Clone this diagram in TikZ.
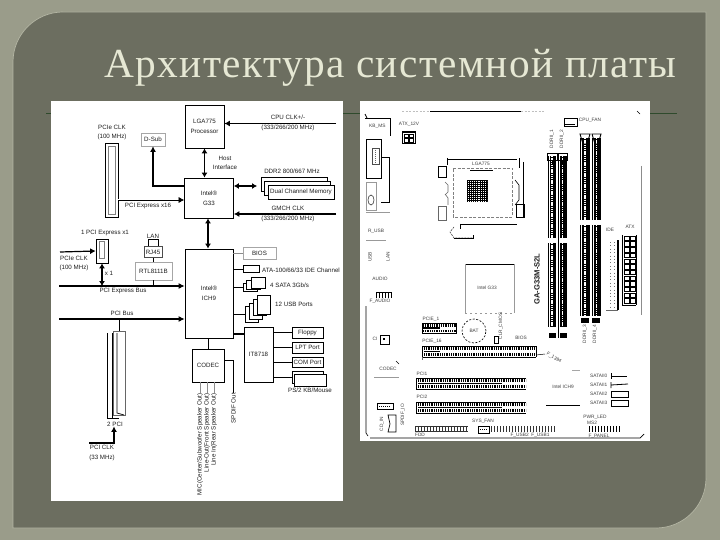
\documentclass[tikz,border=0pt]{standalone}
\usepackage{fontspec}
\setmainfont{Liberation Sans}
\newfontfamily\titlefont[LetterSpace=3.4]{Liberation Serif}
\usetikzlibrary{arrows.meta}
\definecolor{outerbg}{HTML}{9A9C8A}
\definecolor{panelbg}{HTML}{6C6E60}
\definecolor{panelrim}{HTML}{B4B6A4}
\definecolor{rulegreen}{HTML}{2F4A2C}
\definecolor{titlecol}{HTML}{E6E8D4}
\definecolor{ink}{HTML}{1E1E1E}
\tikzset{
  x=1pt,y=-1pt,
  lbl/.style={font=\fontsize{6.2}{9.6}\selectfont,text=ink,inner sep=0,align=center},
  tiny/.style={font=\fontsize{4.8}{6}\selectfont,text=ink!85,inner sep=0,align=center},
  box/.style={draw=black,line width=.7,fill=white,inner sep=0,align=center,font=\fontsize{6.2}{9.6}\selectfont,text=ink},
  wire/.style={draw=black,line width=.7},
  grayw/.style={draw=black!45,line width=.7},
  arr/.style={draw=black,line width=1.2,-{Latex[length=5.5,width=6]}},
  darr/.style={draw=black,line width=1.2,{Latex[length=5,width=6]}-{Latex[length=5,width=6]}},
  bus/.style={draw=black,line width=1.3,-{Latex[length=6,width=6]}},
  brd/.style={draw=black,line width=.7},
  gbrd/.style={draw=black!40,line width=.6},
  pins/.style={draw=black,line width=2.2,dash pattern=on 1 off .8},
  vpin/.style={draw=black,line width=1,dash pattern=on 1 off 1},
}
% a memory slot drawn upright: x0 x1 y0 y1
\newcommand{\memslot}[4]{%
  \fill[black] (#1,#3) rectangle (#2,#4);
  \draw[white,line width=1.6,dash pattern=on 1.4 off .8] ({(#1+#2)/2},#3) -- ({(#1+#2)/2},#4);
  \draw[white,line width=.5] ({#1+1.2},#3) -- ({#1+1.2},#4);
}
% an expansion slot drawn on its side: x0 x1 y0 y1
\newcommand{\sideslot}[4]{%
  \draw[brd] (#2,#3) -- (#1,#3) -- (#1,#4) -- (#2,#4);
  \draw[pins] ({#1+2},{#3+2.5}) -- (#2,{#3+2.5});
  \draw[pins] ({#1+2},{#4-2.5}) -- (#2,{#4-2.5});
}
\begin{document}
\begin{tikzpicture}
\useasboundingbox (0,0) rectangle (720,540);
% ---------- slide ----------
\fill[outerbg] (0,0) rectangle (720,540);
\fill[panelbg] (13,528) -- (13,62) arc[start angle=180,end angle=90,radius=50pt] -- (706,12)
   -- (706,478) arc[start angle=0,end angle=-90,radius=50pt] -- cycle;
\draw[panelrim,line width=.7] (13,528) -- (13,62) arc[start angle=180,end angle=90,radius=50pt] -- (706,12)
   -- (706,478) arc[start angle=0,end angle=-90,radius=50pt] -- cycle;
\coordinate (ruleA) at (46,113.5);
\coordinate (ruleB) at (677,113.5);
\draw[rulegreen,line width=.9] (ruleA) -- (ruleB);
\node[anchor=base west,inner sep=0,text=titlecol,font=\titlefont\fontsize{41.3}{41}\selectfont] (title) at (104,78) {Архитектура системной платы};
\fill[white] (51,101) rectangle (343,501);
\fill[white] (360,101) rectangle (650,441);

% ---------- block diagram ----------
\node[box,minimum width=39,minimum height=43] (cpu) at (204.5,126.5) {LGA775\\Processor};
\node[box,minimum width=49,minimum height=40] (gmch) at (209,198) {Intel®\\G33};
\node[box,minimum width=48,minimum height=89] (ich) at (209,293.5) {Intel®\\ICH9};
\node[box,draw=black!35,minimum width=24,minimum height=13] (dsub) at (153,139.5) {D-Sub};
\node[box,draw=black,fill=white,minimum width=13,minimum height=74] (pcie) at (111.5,180) {};
\node[draw=black!50,line width=.6,inner sep=0,minimum width=7,minimum height=68] (pcieinner) at (111.5,180) {};

\node[lbl] (cpuclklbl) at (288,123) {CPU CLK+/-\\(333/266/200 MHz)};
\coordinate (cpuclk) at (336,123.5);
\draw[arr] (cpuclk) -- (cpuclk -| cpu.east);
\draw[darr] (cpu.south) -- (gmch.north -| cpu.south);
\node[lbl] (hostlbl) at (225,163) {Host\\Interface};
\node[lbl] (pcieclklbl) at (112,132.5) {PCIe CLK\\(100 MHz)};
\draw[arr] (gmch.west |- 0,186) -- (153,186) -- (dsub.south);
\node[lbl] (x16lbl) at (148,206) {PCI Express x16};
\draw[arr,line width=.6,double distance=1] (pcie.east |- 0,200) -- (gmch.west |- 0,200);

\node[lbl] (ddrlbl) at (292,171) {DDR2 800/667 MHz};
\node[box,minimum width=66,minimum height=14] (mem1) at (294,184) {};
\node[box,minimum width=66,minimum height=14] (mem2) at (297.5,188) {};
\node[box,minimum width=66,minimum height=14] (mem3) at (301,192) {Dual Channel Memory};
\coordinate (memin) at (257,186);
\draw[darr] (gmch.east |- memin) -- (memin);
\node[lbl] (gmchclklbl) at (288,214) {GMCH CLK\\(333/266/200 MHz)};
\coordinate (gmchclk) at (336,214);
\draw[arr] (gmchclk) -- (gmchclk -| gmch.east);
\draw[darr] (gmch.south -| 208,0) -- (ich.north -| 208,0);

\node[lbl] (x1lbl) at (105,233) {1 PCI Express x1};
\node[box,minimum width=12,minimum height=24] (pciex1) at (102,251) {};
\node[draw=black!50,line width=.6,inner sep=0,minimum width=5,minimum height=17] (pciex1in) at (102,250) {};
\coordinate (x1clk) at (60,252);
\draw[arr] (x1clk) -- (pciex1.west);
\node[lbl] (x1clklbl) at (74,263.5) {PCIe CLK\\(100 MHz)};
\coordinate (pciebus) at (59,286);
\draw[bus] (pciebus) -- (pciebus -| ich.west);
\node[lbl] (buslbl) at (123,291) {PCI Express Bus};
\draw[darr] (pciex1.south) -- (pciex1.south |- pciebus);
\node[lbl] (xonelbl) at (109,273.5) {x 1};
\node[lbl] (lanlbl) at (153,236) {LAN};
\node[box,draw=black!70,minimum width=18,minimum height=11] (rj) at (153,252) {RJ45};
\node[box,draw=black!35,minimum width=37,minimum height=18] (rtl) at (153.5,271) {RTL8111B};
\coordinate (lanA) at (148,239);
\coordinate (lanB) at (158,239);
\draw[wire] (rj.north -| lanA) -- (lanA) -- (lanB) -- (rj.north -| lanB);
\draw[wire] (rj.south) -- (rj.south |- rtl.north);
\draw[wire] (rtl.south) -- (rtl.south |- pciebus);

\node[box,draw=black!35,minimum width=33,minimum height=12] (bios) at (259.5,253) {BIOS};
\draw[grayw] (ich.east |- bios) -- (bios.west);
\node[box,minimum width=16,minimum height=7] (ata) at (251,269) {};
\draw[wire] (ich.east |- ata) -- (ata.west);
\node[lbl,anchor=west] (atalbl) at (262,270) {ATA-100/66/33 IDE Channel};
\node[box,minimum width=14,minimum height=8] (sataC) at (250,287) {};
\node[box,minimum width=14,minimum height=9] (sataB) at (253,284.5) {};
\node[box,minimum width=14,minimum height=11] (sataA) at (258,282.5) {};
\draw[wire] (ich.east |- sataC) -- (sataC.west);
\node[lbl,anchor=west] (satalbl) at (270,285) {4 SATA 3Gb/s};
\node[box,minimum width=13,minimum height=16] (usbD) at (251.5,314) {};
\node[box,minimum width=13,minimum height=16] (usbC) at (255.5,311) {};
\node[box,minimum width=13,minimum height=16] (usbB) at (259.5,307) {};
\node[box,minimum width=13,minimum height=19] (usbA) at (263.5,304.5) {};
\draw[wire] (ich.east |- usbD) -- (usbD.west);
\node[lbl,anchor=west] (usblbl) at (275,304) {12 USB Ports};

\coordinate (pcibus) at (59,319);
\draw[bus] (pcibus) -- (pcibus -| ich.west);
\node[lbl] (pcibuslbl) at (122,313) {PCI Bus};
\node[box,draw=black!60,minimum width=12,minimum height=84] (pciA) at (119,373) {};
\draw[wire] (117,333) -- (117,413) -- (124,415);
\draw[wire] (pciA.north |- pcibus) -- (pciA.north);
\coordinate (pciBa) at (107,333);
\coordinate (pciBb) at (107,418);
\coordinate (pciBc) at (119,418);
\coordinate (pciCa) at (112,333);
\coordinate (pciCb) at (112,418);
\draw[wire] (pciBa) -- (pciBb) -- (pciBc);
\draw[wire] (pciCa) -- (pciCb);
\node[lbl] (pci2lbl) at (115,424) {2 PCI};
\coordinate (pciclkA) at (89,443);
\coordinate (pciclkB) at (114,443);
\draw[arr] (pciclkA) -- (pciclkB) -- (pci2lbl.south -| pciclkB);
\node[lbl] (pciclklbl) at (102,453) {PCI CLK\\(33 MHz)};

\node[box,draw=black,minimum width=32,minimum height=33] (codec) at (208,365.5) {CODEC};
\draw[wire] (codec.north -| 208,0) -- (ich.south -| 208,0);
\node[box,draw=black,minimum width=29,minimum height=55] (it) at (258.5,354.5) {IT8718};
\draw[black,line width=1.3] (ich.east |- 0,334) -- (it.west |- 0,334);
\node[box,minimum width=31,minimum height=11] (floppy) at (307.5,332.5) {Floppy};
\node[box,minimum width=31,minimum height=11] (lpt) at (307.5,347.5) {LPT Port};
\node[box,minimum width=31,minimum height=10] (com) at (307.5,362) {COM Port};
\node[box,minimum width=31,minimum height=12] (ps2b) at (307.5,377) {};
\node[box,minimum width=32,minimum height=12] (ps2f) at (310.5,380) {};
\node[lbl] (ps2lbl) at (310,390) {PS/2 KB/Mouse};
\foreach \n in {floppy,lpt,com} \draw[wire] (it.east |- \n) -- (\n.west);
\draw[wire] (it.east |- ps2b) -- (ps2b.west);
\node[lbl,rotate=90,anchor=east] (mic) at (200,393) {MIC(Center/Subwoofer Speaker Out)};
\node[lbl,rotate=90,anchor=east] (lo) at (207,393) {Line-Out(Front Speaker Out)};
\node[lbl,rotate=90,anchor=east] (li) at (214,393) {Line In(Rear Speaker Out)};
\foreach \nm in {mic,lo,li} \draw[grayw] (\nm.east) -- (\nm.east |- codec.south);
\node[lbl,rotate=90,anchor=east] (spdif) at (233.5,393) {SPDIF Out};
\draw[wire] (codec.east |- 0,360) -- (233.5,360) -- (spdif.east);

% ---------- board layout ----------
\coordinate (tA) at (430,111); \coordinate (tB) at (521,111);
\draw[black,line width=.8] (tA) -- (tB);
\draw[black!25,line width=.7,dash pattern=on 2 off 1.5] (402,111) -- (430,111) (521,111) -- (545,111);
\draw[brd] (367,118) -- (365,114);
\draw[black,line width=.6] (366,306) -- (366,433) -- (368,436);
\draw[black,line width=.7] (370,438) -- (640,438) -- (644,434);
\draw[black!45,line width=.6] (641,166) -- (641,315);
\draw[black,line width=.5] (637,111) -- (640,114);
% rear panel
\node[tiny,anchor=west] (kbms) at (369,126) {KB\_MS};
\draw[brd] (365,118) -- (390,118) -- (390,136);
\draw[brd] (366,139) -- (381,139) -- (381,178) -- (366,178) -- cycle;
\draw[black!70,line width=.7] (372,148) rectangle (379,164);
\draw[black!60,line width=1,dash pattern=on 1 off 1] (375.5,150) -- (375.5,163);
\draw[brd] (382,157) -- (389,157) -- (389,202) -- (381,202);
\draw[gbrd] (366,182) rectangle (376,210);
\draw[black!70,line width=.7] (371,200) ellipse [x radius=3,y radius=5];
\draw[gbrd] (366,212) -- (390,212);
\node[tiny] (rusb) at (376,231) {R\_USB};
\draw[gbrd] (366,240) -- (386,240);
\node[tiny,rotate=90] (usbt) at (370,257) {USB};
\node[tiny,rotate=90] (lant) at (388,257) {LAN};
\node[tiny] (aud) at (380,279) {AUDIO};
\node[tiny] (fa) at (380,301) {F\_AUDIO};
\foreach \i in {0,...,5} \draw[black,line width=.7] ({376+\i*3},292) -- ({376+\i*3},298);
\draw[black,line width=.5] (376,292) -- (391,292);
\draw[brd] (380,335) rectangle (389,344);
\fill[black] (383,338) rectangle (385,340);
\node[tiny] (ci) at (375,339) {CI};
\node[tiny] (codect) at (388,369) {CODEC};
\draw[gbrd] (374,377) -- (399,377);
\draw[black,line width=.5] (396,361) -- (399,364);
% ATX 12V
\node[tiny] (atxv) at (409,124) {ATX\_12V};
\draw[brd] (402,131) rectangle (415,143);
\fill[black] (402,131) rectangle (415,133);
\foreach \i in {0,1} \foreach \j in {0,1} \draw[black,line width=.5] ({404+\i*5},{134+\j*4.5}) rectangle +(4,3.5);
% CPU socket
\draw[black,line width=.8] (448,159) -- (517,159);
\draw[black,line width=.8] (523,162) -- (523,217);
\draw[black,line width=.8] (460,224) -- (517,224);
\draw[black,line width=.8] (519,158) -- (519,168) (447,158) -- (447,165);
\draw[black,line width=.6] (438,166) rectangle (446,177);
\draw[black!60,line width=.6] (438,206) rectangle (446,220);
\draw[black!50,line width=.6,dash pattern=on 3 off 1.5] (453,168) -- (512,168) -- (512,217) -- (453,217) -- cycle;
\draw[black!60,line width=.6] (445,182) -- (448,185) -- (448,192) -- (445,195);
\draw[black!60,line width=.6] (445,194) -- (448,198) -- (448,205);
\draw[black,line width=.6] (470,170) -- (493,170);
\node[tiny] (lga) at (481,164) {LGA775};
\fill[black] (467,180) rectangle (488,202);
\foreach \r in {0,...,10} \draw[white,line width=.9,dash pattern=on .9 off 1] (468,{181+\r*2}) -- (487,{181+\r*2});
\draw[black,line width=.6] (515,180) -- (519,185) -- (519,200) -- (515,205);
\draw[black,line width=.7] (516,204) rectangle (524,217);
\draw[black!70,line width=.6,dash pattern=on 2 off 1] (454,227) -- (450,232) -- (454,238) -- (473,238);
\draw[black,line width=.6] (454,238) -- (473,238) -- (473,235);
\draw[black,line width=.6] (460,224) -- (460,229);
% chipset
\draw[black,line width=.8] (465,264) -- (514,264);
\draw[black!40,line width=.5] (465,264) -- (465,313) (514,264) -- (514,313);
\draw[black!40,line width=.5,dash pattern=on 2 off 3] (465,313) -- (514,313);
\node[tiny] (g33) at (487,288) {Intel G33};
\node[rotate=90,inner sep=0,text=ink,font=\fontsize{7.6}{8}\bfseries\selectfont] (ga) at (537,279) {GA-G33M-S2L};
% memory
\memslot{548}{556}{156}{238}\memslot{558}{567}{156}{238}
\memslot{548}{556}{243}{327}\memslot{558}{567}{243}{327}
\draw[black,line width=.6] (547,153) rectangle (557,160);
\draw[black,line width=.6] (558,153) rectangle (567,160);
\draw[black,line width=.6] (552,160) -- (552,164) (562,160) -- (562,164);
\fill[black] (549,333) rectangle (556,338);
\fill[black] (560,333) rectangle (567,338);
\draw[black,line width=.6] (558,160) -- (558,338);
\node[tiny,rotate=90] (d1) at (552,139) {DDRII\_1};
\node[tiny,rotate=90] (d2) at (562,139) {DDRII\_2};
\memslot{580}{590}{138}{220}\memslot{592}{601}{138}{220}
\memslot{580}{590}{225}{316}\memslot{592}{601}{225}{316}
\draw[black,line width=.9] (580,134) -- (590,134) -- (587,144) -- (583,144) -- cycle;
\draw[black,line width=.9] (592,134) -- (601,134) -- (598,144) -- (595,144) -- cycle;
\fill[black] (581,318) rectangle (589,323);
\fill[black] (592,318) rectangle (600,323);
\node[tiny,rotate=90] (d3) at (585,334) {DDRII\_3};
\node[tiny,rotate=90] (d4) at (595,334) {DDRII\_4};
\draw[brd] (564,118) rectangle (577,126);
\draw[black,line width=.9] (565,124) -- (575,124);
\node[tiny] (cpufan) at (590,120) {CPU\_FAN};
% IDE and ATX
\node[tiny] (ide) at (610,230) {IDE};
\draw[black,line width=1.2] (618,240) -- (618,310);
\draw[black!60,line width=.6] (606,310) -- (618,310);
\foreach \xp in {610,614} \draw[black!55,line width=.9,dash pattern=on 1 off 2.4] (\xp,242) -- (\xp,308);
\node[tiny] (atx) at (630,227) {ATX};
\draw[brd] (622,235) -- (622,305) -- (636,305);
\draw[black,line width=.8] (636,235) -- (636,305);
\foreach \r in {0,...,11} {
  \draw[black,line width=.5] (624,{236+\r*5.7}) rectangle +(5,4.4);
  \draw[black,line width=.5] (630,{236+\r*5.7}) rectangle +(5,4.4);
}
% slots
\node[tiny] (pe1) at (431,319) {PCIE\_1};
\draw[brd] (422,323) rectangle (456,333);
\draw[pins] (423,325.5) -- (456,325.5);
\draw[pins] (423,331) -- (456,331);
\draw[black,line width=1.2] (422,328) -- (440,328);
\draw[black,line width=.6,dash pattern=on 2 off 1.6] (474,331) circle [radius=12pt];
\node[tiny] (bat) at (474,331) {BAT};
\node[tiny,rotate=90] (clr) at (501,326) {CLR\_CMOS};
\draw[black,line width=.6] (494,336) rectangle (498,343);
\node[tiny] (bios2) at (521,338) {BIOS};
\node[tiny] (pe16) at (432,341) {PCIE\_16};
\sideslot{422}{536}{346}{357}
\draw[black,line width=.7] (536,346) -- (536,357);
\draw[black,line width=1] (424,351.5) -- (440,351.5);
\draw[black!60,line width=.6] (422,357) -- (422,360);
\draw[black,line width=.5] (536,355) -- (545,354);
\node[tiny,rotate=-30] (pcidiag) at (554,358) {F\_1394};
\node[tiny] (p1) at (422,374) {PCI1};
\sideslot{416}{526}{378}{389}
\draw[black,line width=.9] (418,383.5) -- (502,383.5);
\node[tiny] (p2) at (422,397) {PCI2};
\sideslot{416}{526}{402}{413}
\draw[black,line width=.9] (418,407.5) -- (502,407.5);
\draw[brd] (416,389) -- (416,378);
% south bridge
\node[tiny] (ichb) at (563,387) {Intel ICH9};
\draw[black,line width=.7] (546,405) -- (580,405);
\draw[black!35,line width=.5] (572,370) -- (580,370);
% SATA
\node[tiny,anchor=west] (s0) at (590,376) {SATAII0};
\node[tiny,anchor=west] (s1) at (590,385) {SATAII1};
\node[tiny,anchor=west] (s2) at (590,394) {SATAII2};
\node[tiny,anchor=west] (s3) at (590,403) {SATAII3};
\draw[black,line width=.8] (611,373) -- (611,379) (611,376) -- (627,376);
\draw[black,line width=.8] (611,382) -- (611,388) (611,385) -- (628,384);
\draw[black,line width=.8] (611,391) rectangle (628,397);
\draw[black,line width=.8] (611,400) rectangle (628,406);
% bottom headers
\node[tiny] (pwrled) at (595,417) {PWR\_LED};
\node[tiny] (ms) at (592,423) {MS2};
\foreach \i in {0,...,10} \draw[black,line width=.6] ({589+\i*3},426) -- ({589+\i*3},432);
\node[tiny] (fp) at (599,436) {F\_PANEL};
\node[tiny] (sysfan) at (483,421) {SYS\_FAN};
\draw[brd] (478,426) rectangle (489,433);
\draw[black,line width=.8,dash pattern=on 1 off 1] (480,429) -- (488,429);
\foreach \i in {0,...,21} \draw[black!80,line width=.6] ({491+\i*3},426) -- ({491+\i*3},432);
\node[tiny] (fu) at (530,435) {F\_USB2\ \ F\_USB1};
\foreach \i in {0,...,17} \draw[black!80,line width=.6] ({415+\i*3},426) -- ({415+\i*3},432);
\draw[black!80,line width=.5] (415,426) -- (468,426) (415,431) -- (468,431);
\node[tiny] (fdd) at (420,435) {FDD};
\draw[brd] (377,403) rectangle (393,409);
\draw[black,line width=1,dash pattern=on 1 off 1] (377,406) -- (390,406);
\draw[brd] (388,415) -- (396,415) -- (396,432) -- (388,432) -- (390,424) -- cycle;
\node[tiny,rotate=90] (cdin) at (382,424) {CD\_IN};
\node[tiny,rotate=90] (spd2) at (403,415) {SPDIF\_IO};
\end{tikzpicture}
\end{document}
